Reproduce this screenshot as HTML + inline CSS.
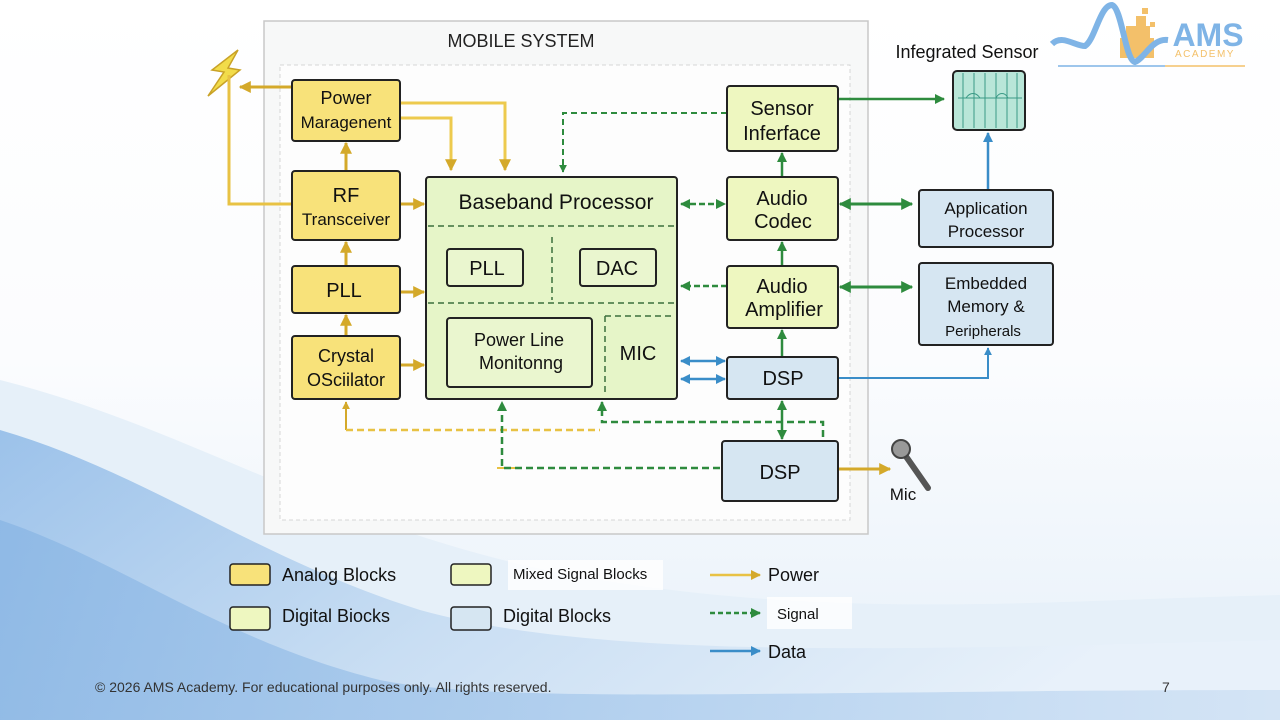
<!DOCTYPE html>
<html><head><meta charset="utf-8"><style>
html,body{margin:0;padding:0;width:1280px;height:720px;overflow:hidden;background:#fff}
svg{display:block;font-family:"Liberation Sans",sans-serif}
</style></head><body>
<svg width="1280" height="720" viewBox="0 0 1280 720" xmlns="http://www.w3.org/2000/svg">
<defs>
<linearGradient id="bg" x1="0" y1="0" x2="0" y2="1">
<stop offset="0" stop-color="#ffffff"/><stop offset="0.5" stop-color="#fbfcfe"/><stop offset="1" stop-color="#e6f0f9"/></linearGradient>
<linearGradient id="w1" x1="0" y1="0" x2="1" y2="0.3"><stop offset="0" stop-color="#9cc2ea"/><stop offset="0.5" stop-color="#c9def3"/><stop offset="1" stop-color="#e8f1fa"/></linearGradient>
<linearGradient id="w2" x1="0" y1="0" x2="1" y2="0"><stop offset="0" stop-color="#8ab6e4"/><stop offset="0.6" stop-color="#b4d1ef"/><stop offset="1" stop-color="#cfe1f4"/></linearGradient>
<marker id="ay" viewBox="0 0 10 10" refX="9" refY="5" markerWidth="4" markerHeight="4" orient="auto-start-reverse"><path d="M0,0L10,5L0,10z" fill="#d4a92a"/></marker>
<marker id="ag" viewBox="0 0 10 10" refX="9" refY="5" markerWidth="4" markerHeight="4" orient="auto-start-reverse"><path d="M0,0L10,5L0,10z" fill="#2e8b3e"/></marker>
<marker id="ab" viewBox="0 0 10 10" refX="9" refY="5" markerWidth="4" markerHeight="4" orient="auto-start-reverse"><path d="M0,0L10,5L0,10z" fill="#3a8dc8"/></marker>
</defs>
<rect width="1280" height="720" fill="url(#bg)"/>
<path d="M0,380 C200,430 350,540 600,580 C850,620 1050,600 1280,595 L1280,720 L0,720z" fill="#e6f0f9"/>
<path d="M0,430 C140,470 260,560 420,610 C600,660 900,650 1280,640 L1280,720 L0,720z" fill="url(#w1)"/>
<path d="M0,520 C120,560 220,640 380,680 C500,705 800,690 1280,690 L1280,720 L0,720z" fill="url(#w2)" opacity="0.8"/>

<!-- main panel -->
<rect x="264" y="21" width="604" height="513" fill="#f7f8f8" stroke="#c8c8c8" stroke-width="1.5"/>
<rect x="280" y="65" width="570" height="455" fill="#fdfdfd" stroke="#d6d6d6" stroke-dasharray="4,3"/>
<text x="521" y="47" font-size="18" text-anchor="middle" fill="#222">MOBILE SYSTEM</text>

<!-- lightning -->
<path d="M238,50 L212,70 L224,72 L208,96 L240,70 L228,68z" fill="#f2dc4a" stroke="#c9a227" stroke-width="1.5"/>

<g fill="none" stroke-width="3">
<path d="M292,87 L240,87" stroke="#d4a92a" marker-end="url(#ay)"/>
<path d="M292,204 L229,204 L229,75" stroke="#e8c244"/>
<path d="M400,103 L505,103 L505,170" stroke="#edca4e" marker-end="url(#ay)"/>
<path d="M400,118 L451,118 L451,170" stroke="#edca4e" marker-end="url(#ay)"/>
<path d="M346,171 L346,143" stroke="#d4a92a" marker-end="url(#ay)"/>
<path d="M346,266 L346,242" stroke="#d4a92a" marker-end="url(#ay)"/>
<path d="M346,336 L346,315" stroke="#d4a92a" marker-end="url(#ay)"/>
<path d="M400,204 L424,204" stroke="#d4a92a" marker-end="url(#ay)"/>
<path d="M400,292 L424,292" stroke="#d4a92a" marker-end="url(#ay)"/>
<path d="M400,365 L424,365" stroke="#d4a92a" marker-end="url(#ay)"/>
<path d="M346,430 L346,402" stroke="#d4a92a" stroke-width="2" marker-end="url(#ay)"/>
<path d="M346,430 L600,430" stroke="#e8c244" stroke-width="2.5" stroke-dasharray="7,4"/>
<path d="M497,468 L520,468" stroke="#e8c244" stroke-width="2"/>
<path d="M838,469 L890,469" stroke="#d4a92a" marker-end="url(#ay)"/>

<path d="M727,113 L563,113 L563,172" stroke="#2e8b3e" stroke-width="2" stroke-dasharray="6,4" marker-end="url(#ag)"/>
<path d="M430,268 L446,268" stroke="#2e8b3e" stroke-width="2" marker-end="url(#ag)"/>
<path d="M430,358 L446,358" stroke="#2e8b3e" stroke-width="2" marker-end="url(#ag)"/>
<path d="M675,268 L658,268" stroke="#2e8b3e" stroke-width="2" marker-end="url(#ag)"/>
<path d="M603,358 L594,358" stroke="#2e8b3e" stroke-width="2" marker-end="url(#ag)"/>
<path d="M681,204 L725,204" stroke="#2e8b3e" stroke-width="2.5" stroke-dasharray="6,3" marker-start="url(#ag)" marker-end="url(#ag)"/>
<path d="M727,286 L681,286" stroke="#2e8b3e" stroke-width="2.5" stroke-dasharray="6,3" marker-end="url(#ag)"/>
<path d="M782,177 L782,153" stroke="#2e8b3e" stroke-width="2.5" marker-end="url(#ag)"/>
<path d="M782,266 L782,242" stroke="#2e8b3e" stroke-width="2.5" marker-end="url(#ag)"/>
<path d="M782,357 L782,330" stroke="#2e8b3e" stroke-width="2.5" marker-end="url(#ag)"/>
<path d="M782,401 L782,439" stroke="#2e8b3e" stroke-width="2.5" marker-start="url(#ag)" marker-end="url(#ag)"/>
<path d="M823,437 L823,422 L602,422 L602,402" stroke="#2e8b3e" stroke-width="2.5" stroke-dasharray="7,4" marker-end="url(#ag)"/>
<path d="M720,468 L502,468 L502,402" stroke="#2e8b3e" stroke-width="2.5" stroke-dasharray="7,4" marker-end="url(#ag)"/>
<path d="M838,99 L944,99" stroke="#2e8b3e" stroke-width="2.5" marker-end="url(#ag)"/>
<path d="M840,204 L912,204" stroke="#2e8b3e" stroke-width="3" marker-start="url(#ag)" marker-end="url(#ag)"/>
<path d="M840,287 L912,287" stroke="#2e8b3e" stroke-width="3" marker-start="url(#ag)" marker-end="url(#ag)"/>

<path d="M681,361 L725,361" stroke="#3a8dc8" stroke-width="2.5" marker-start="url(#ab)" marker-end="url(#ab)"/>
<path d="M681,379 L725,379" stroke="#3a8dc8" stroke-width="2.5" marker-start="url(#ab)" marker-end="url(#ab)"/>
<path d="M838,378 L988,378 L988,348" stroke="#3a8dc8" stroke-width="2" marker-end="url(#ab)"/>
<path d="M988,190 L988,133" stroke="#3a8dc8" stroke-width="2.5" marker-end="url(#ab)"/>
</g>

<g stroke="#222" stroke-width="2" fill="#f8e27a">
<rect x="292" y="80" width="108" height="61" rx="3"/>
<rect x="292" y="171" width="108" height="69" rx="3"/>
<rect x="292" y="266" width="108" height="47" rx="3"/>
<rect x="292" y="336" width="108" height="63" rx="3"/>
</g>
<rect x="426" y="177" width="251" height="222" rx="3" fill="#e6f5c8" stroke="#222" stroke-width="2"/>
<g stroke="#3c6e3c" stroke-width="1.5" stroke-dasharray="6,4" fill="none">
<path d="M428,226 L675,226"/><path d="M428,303 L675,303"/>
<path d="M552,237 L552,300"/><path d="M605,316 L605,395"/><path d="M605,316 L675,316"/>
</g>
<g stroke="#222" stroke-width="2" fill="#eaf6cf">
<rect x="447" y="249" width="76" height="37" rx="3"/>
<rect x="580" y="249" width="76" height="37" rx="3"/>
<rect x="447" y="318" width="145" height="69" rx="3"/>
<rect x="727" y="86" width="111" height="65" rx="3" fill="#eef7c0"/>
<rect x="727" y="177" width="111" height="63" rx="3" fill="#eef7c0"/>
<rect x="727" y="266" width="111" height="62" rx="3" fill="#eef7c0"/>
</g>
<g stroke="#222" stroke-width="2" fill="#d6e6f2">
<rect x="727" y="357" width="111" height="42" rx="3"/>
<rect x="722" y="441" width="116" height="60" rx="3"/>
<rect x="919" y="190" width="134" height="57" rx="3"/>
<rect x="919" y="263" width="134" height="82" rx="3"/>
</g>
<rect x="953" y="71" width="72" height="59" rx="4" fill="#b9e6d8" stroke="#222" stroke-width="2"/>
<g stroke="#3a9a86" stroke-width="1">
<path d="M963,73V128M974,73V128M985,73V128M996,73V128M1007,73V128M1017,73V128"/>
<path d="M958,98H1022"/><path d="M966,98c4,-6 10,-6 14,0M996,98c3,-6 9,-6 12,0" fill="none"/>
</g>
<path d="M905,455 L928,488" stroke="#555" stroke-width="6" stroke-linecap="round"/>
<circle cx="901" cy="449" r="9" fill="#999" stroke="#444" stroke-width="2"/>

<g font-size="18" fill="#111" text-anchor="middle">
<text x="346" y="104">Power</text><text x="346" y="128" font-size="17">Maragenent</text>
<text x="346" y="202" font-size="20">RF</text><text x="346" y="225" font-size="17">Transceiver</text>
<text x="344" y="297" font-size="20">PLL</text>
<text x="346" y="362">Crystal</text><text x="346" y="386">OSciilator</text>
<text x="556" y="209" font-size="21">Baseband Processor</text>
<text x="487" y="275" font-size="20">PLL</text>
<text x="617" y="275" font-size="20">DAC</text>
<text x="519" y="346" font-size="18">Power Line</text><text x="521" y="369" font-size="18">Monitonng</text>
<text x="638" y="360" font-size="20">MIC</text>
<text x="782" y="115" font-size="20">Sensor</text><text x="782" y="140" font-size="20">Inferface</text>
<text x="782" y="205" font-size="20">Audio</text><text x="783" y="228" font-size="20">Codec</text>
<text x="782" y="293" font-size="20">Audio</text><text x="784" y="316" font-size="20">Amplifier</text>
<text x="783" y="385" font-size="20">DSP</text>
<text x="780" y="479" font-size="20">DSP</text>
<text x="986" y="214" font-size="17">Application</text><text x="986" y="237" font-size="17">Processor</text>
<text x="986" y="289" font-size="17">Embedded</text><text x="986" y="312" font-size="17">Memory &amp;</text><text x="983" y="336" font-size="15">Peripherals</text>
<text x="967" y="58" font-size="18">Infegrated Sensor</text>
<text x="903" y="500" font-size="17">Mic</text>
</g>

<!-- logo -->
<g fill="#f3c06a">
<rect x="1120" y="38" width="34" height="20"/><rect x="1126" y="26" width="24" height="12"/>
<rect x="1136" y="16" width="10" height="10"/><rect x="1142" y="8" width="6" height="6"/><rect x="1150" y="22" width="5" height="5"/>
</g>
<path d="M1052,44 C1062,34 1075,46 1085,46 C1095,40 1100,5 1112,5 C1122,8 1125,60 1135,62 C1145,58 1152,38 1168,40" fill="none" stroke="#7fb4e6" stroke-width="6"/>
<text x="1208" y="46" font-size="32" font-weight="bold" fill="#7fb4e6" text-anchor="middle">AMS</text>
<text x="1205" y="57" font-size="10" fill="#f3c06a" text-anchor="middle" letter-spacing="1.5">ACADEMY</text>
<path d="M1058,66H1165" stroke="#7fb4e6" stroke-width="1.5"/><path d="M1165,66H1245" stroke="#f3c06a" stroke-width="1.5"/>

<g stroke="#222" stroke-width="1.5">
<rect x="230" y="564" width="40" height="21" rx="3" fill="#f8e27a"/>
<rect x="230" y="607" width="40" height="23" rx="3" fill="#eef7c0"/>
<rect x="451" y="564" width="40" height="21" rx="3" fill="#eef7c0"/>
<rect x="451" y="607" width="40" height="23" rx="3" fill="#d6e6f2"/>
</g>
<rect x="508" y="560" width="155" height="30" fill="#fff" opacity="0.8"/>
<rect x="767" y="597" width="85" height="32" fill="#fff" opacity="0.8"/>
<g font-size="18" fill="#111">
<text x="282" y="581">Analog Blocks</text>
<text x="282" y="622">Digital Biocks</text>
<text x="513" y="579" font-size="15">Mixed Signal Blocks</text>
<text x="503" y="622">Digital Blocks</text>
<text x="768" y="581">Power</text>
<text x="777" y="619" font-size="15">Signal</text>
<text x="768" y="658">Data</text>
</g>
<g fill="none" stroke-width="2.5">
<path d="M710,575 L760,575" stroke="#e8c244" marker-end="url(#ay)"/>
<path d="M710,613 L760,613" stroke="#2e8b3e" stroke-dasharray="5,3" marker-end="url(#ag)"/>
<path d="M710,651 L760,651" stroke="#3a8dc8" marker-end="url(#ab)"/>
</g>
<text x="95" y="692" font-size="14" fill="#333">© 2026 AMS Academy. For educational purposes only. All rights reserved.</text>
<text x="1162" y="692" font-size="14" fill="#333">7</text>
</svg>
</body></html>
